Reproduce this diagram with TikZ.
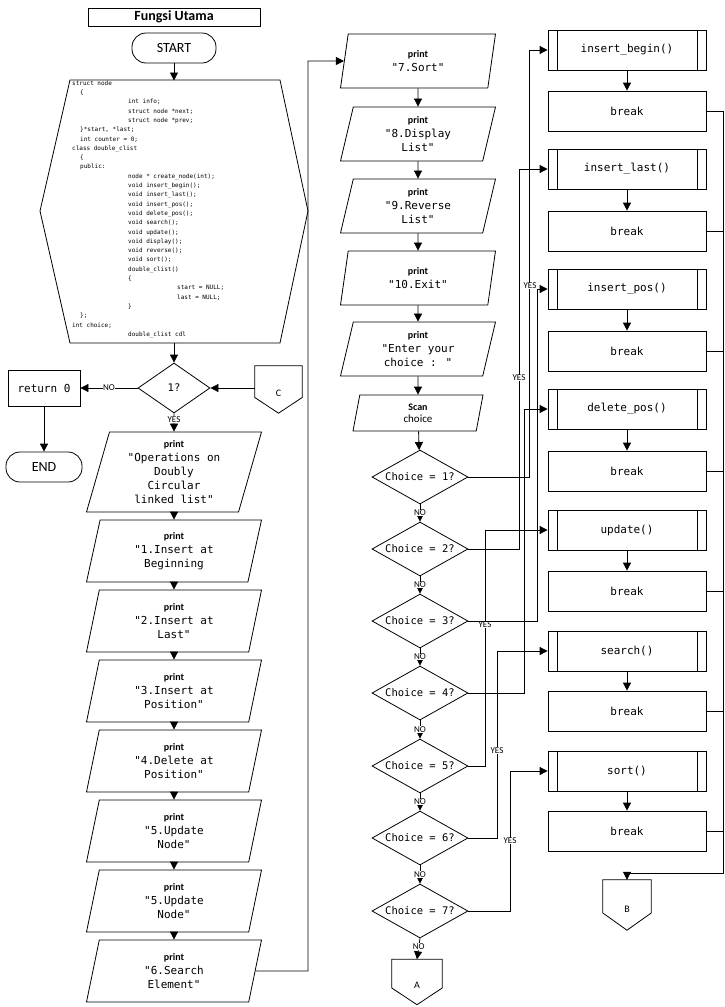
\documentclass[tikz,border=0pt]{standalone}
\usepackage{fontspec}
\setmainfont{Carlito}
\newfontfamily\mono{DejaVu Sans Mono}
\usetikzlibrary{shapes.geometric,arrows.meta}
\begin{document}
\begin{tikzpicture}[x=1pt,y=-1pt,
  every node/.style={inner sep=1pt},
  line/.style={draw,line width=0.8pt},
  arr/.style={line,-{Triangle[length=8pt,width=8pt]}},
  lbl/.style={font=\fontsize{9}{10}\selectfont,fill=white,inner sep=0.5pt},
  io/.style={draw,line width=0.8pt,trapezium,trapezium left angle=70,trapezium right angle=110,trapezium stretches body=true,minimum width=175pt,minimum height=62pt,align=center,font=\fontsize{11}{14}\selectfont\mono,inner sep=0pt},
  dec/.style={draw,line width=0.8pt,diamond,aspect=1.8,minimum width=96pt,minimum height=54pt,inner sep=0pt,font=\fontsize{10.5}{12}\selectfont\mono},
  proc/.style={draw,line width=0.8pt,minimum width=158pt,minimum height=40pt,font=\fontsize{11}{12}\selectfont\mono},
  pproc/.style={proc,path picture={\draw[line width=0.8pt] ([xshift=9pt]path picture bounding box.north west)--([xshift=9pt]path picture bounding box.south west);
     \draw[line width=0.8pt] ([xshift=-9pt]path picture bounding box.north east)--([xshift=-9pt]path picture bounding box.south east);}},
  term/.style={draw,line width=0.8pt,rounded corners=14pt,minimum height=30pt,font=\fontsize{14}{16}\selectfont}
]
\useasboundingbox (0,0) rectangle (725,1007);
\fill[white] (0,0) rectangle (725,1007);
\newcommand{\pr}[1]{{\fontfamily{}\rmfamily\bfseries\fontsize{10}{12}\selectfont print}\\#1}
% title
\node[draw,line width=0.8pt,minimum width=172pt,minimum height=18pt,font=\bfseries\fontsize{14}{16}\selectfont] (title) at (174,17) {Fungsi Utama};
\node[term,minimum width=84pt] (start) at (174,48) {START};
% code hexagon
\node[minimum width=268pt,minimum height=263pt] (code) at (174,211.5) {};
\draw[line width=0.8pt] (70,80)--(280,80)--(308,211)--(280,343)--(70,343)--(40,211)--cycle;
\node[anchor=north west,align=left,inner sep=0pt,font=\mono\fontsize{6}{9.3}\selectfont] (codetext) at (72,80.5) {%
struct node\\
\hspace*{8pt}\{\\
\hspace*{56pt}int info;\\
\hspace*{56pt}struct node *next;\\
\hspace*{56pt}struct node *prev;\\
\hspace*{8pt}\}*start, *last;\\
\hspace*{8pt}int counter = 0;\\
class double\_clist\\
\hspace*{8pt}\{\\
\hspace*{8pt}public:\\
\hspace*{56pt}node * create\_node(int);\\
\hspace*{56pt}void insert\_begin();\\
\hspace*{56pt}void insert\_last();\\
\hspace*{56pt}void insert\_pos();\\
\hspace*{56pt}void delete\_pos();\\
\hspace*{56pt}void search();\\
\hspace*{56pt}void update();\\
\hspace*{56pt}void display();\\
\hspace*{56pt}void reverse();\\
\hspace*{56pt}void sort();\\
\hspace*{56pt}double\_clist()\\
\hspace*{56pt}\{\\
\hspace*{105pt}start = NULL;\\
\hspace*{105pt}last = NULL;\\
\hspace*{56pt}\}\\
\hspace*{8pt}\};\\
int choice;\\
\hspace*{56pt}double\_clist cdl};
\node[dec,minimum width=72pt,minimum height=50pt,aspect=1.4] (q1) at (174,388) {1?};
\node[draw,line width=0.8pt,minimum width=72pt,minimum height=36pt,font=\mono\fontsize{11}{12}\selectfont] (ret) at (44,388) {return 0};
\node[term,minimum width=76pt] (end) at (44,467) {END};
\node[minimum width=47pt,minimum height=47pt] (C) at (278.5,389.5) {};
\draw[line width=0.8pt] (C.north west)--(C.north east)--([yshift=-8pt]C.east)--(C.south)--([yshift=-8pt]C.west)--cycle;
\node[font=\fontsize{10}{10}\selectfont] at ([yshift=-4pt]C.center) {C};
% left column
\node[io,minimum height=80pt] (ops) at (174,472) {\pr{"Operations on\\Doubly\\Circular\\linked list"}};
\node[io] (p1) at (174,551) {\pr{"1.Insert at\\Beginning}};
\node[io] (p2) at (174,621) {\pr{"2.Insert at\\Last"}};
\node[io] (p3) at (174,691) {\pr{"3.Insert at\\Position"}};
\node[io] (p4) at (174,761) {\pr{"4.Delete at\\Position"}};
\node[io] (p5) at (174,831) {\pr{"5.Update\\Node"}};
\node[io] (p6) at (174,901) {\pr{"5.Update\\Node"}};
\node[io] (p7) at (174,971) {\pr{"6.Search\\Element"}};
% middle column
\node[io,minimum width=155pt,minimum height=54pt] (s7) at (418,61) {\pr{"7.Sort"}};
\node[io,minimum width=155pt,minimum height=54pt] (s8) at (418,134) {\pr{"8.Display\\List"}};
\node[io,minimum width=155pt,minimum height=54pt] (s9) at (418,206) {\pr{"9.Reverse\\List"}};
\node[io,minimum width=155pt,minimum height=54pt] (s10) at (418,278) {\pr{"10.Exit"}};
\node[io,minimum width=155pt,minimum height=54pt] (s11) at (418,349) {\pr{"Enter your\\choice : "}};
\node[io,minimum width=130pt,minimum height=36pt,font=\fontsize{11}{12}\selectfont] (scan) at (418,413) {{\bfseries\fontsize{10}{12}\selectfont Scan}\\choice};
\foreach \i/\y in {1/477,2/549,3/621,4/693,5/766,6/838,7/911}{
  \node[dec] (c\i) at (420,\y) {Choice = \i?};
}
\node[minimum width=50pt,minimum height=45pt] (A) at (417,982) {};
\draw[line width=0.8pt] (A.north west)--(A.north east)--([yshift=-6pt]A.east)--(A.south)--([yshift=-6pt]A.west)--cycle;
\node[font=\fontsize{10}{10}\selectfont] at ([yshift=-3pt]A.center) {A};
% right column
\node[pproc] (f1) at (627,50) {insert\_begin()};
\node[proc] (b1) at (627,111) {break};
\node[pproc] (f2) at (627,169) {insert\_last()};
\node[proc] (b2) at (627,231) {break};
\node[pproc] (f3) at (627,289) {insert\_pos()};
\node[proc] (b3) at (627,351) {break};
\node[pproc] (f4) at (627,409) {delete\_pos()};
\node[proc] (b4) at (627,471) {break};
\node[pproc] (f5) at (627,530) {update()};
\node[proc] (b5) at (627,591) {break};
\node[pproc] (f6) at (627,651) {search()};
\node[proc] (b6) at (627,711) {break};
\node[pproc] (f7) at (627,771) {sort()};
\node[proc] (b7) at (627,831) {break};
\node[minimum width=48pt,minimum height=50pt] (B) at (627,905) {};
\draw[line width=0.8pt] (B.north west)--(B.north east)--([yshift=-8pt]B.east)--(B.south)--([yshift=-8pt]B.west)--cycle;
\node[font=\fontsize{10}{10}\selectfont] at ([yshift=-4pt]B.center) {B};
% connectors left
\draw[arr] (start) -- (codetext.north -| start);
\draw[arr] (174,343) -- (q1.north);
\draw[arr] (q1.west) -- node[lbl]{NO} (ret.east);
\draw[arr] (ret.south) -- (end.north);
\draw[arr] (C.west |- q1) -- (q1.east);
\draw[arr] (q1.south) -- node[lbl,pos=0.35]{YES} (ops.north);
\draw[arr] (ops) -- (p1); \draw[arr] (p1) -- (p2); \draw[arr] (p2) -- (p3);
\draw[arr] (p3) -- (p4); \draw[arr] (p4) -- (p5); \draw[arr] (p5) -- (p6); \draw[arr] (p6) -- (p7);
\coordinate (k1) at (308,971); \coordinate (k2) at (308,61);
\draw[arr] (p7.east) -- (k1) -- (k2) -- (s7.west);
% middle
\draw[arr] (s7) -- (s8); \draw[arr] (s8) -- (s9); \draw[arr] (s9) -- (s10);
\draw[arr] (s10) -- (s11); \draw[arr] (s11) -- (scan); \draw[arr] (scan) -- (c1);
\foreach \a/\b in {1/2,2/3,3/4,4/5,5/6,6/7}{\draw[arr] (c\a.south) -- node[lbl]{NO} (c\b.north);}
\draw[arr] (c7.south) -- node[lbl,pos=0.4]{NO} (A.north);
% yes branches
\draw[arr] (c1.east) -- (529,477) -- (529,50) -- (f1.west);
\draw[arr] (c2.east) -- (519,549) -- node[lbl,pos=0.45]{YES} (519,169) -- (f2.west);
\draw[arr] (c3.east) -- (537,621) -- (537,289) -- (f3.west);
\node[lbl] at (530,286) {YES};
\draw[arr] (c4.east) -- (524,693) -- (524,409) -- (f4.west);
\draw[arr] (c5.east) -- (485,766) -- (485,530) -- (f5.west);
\node[lbl] at (485,625) {YES};
\draw[arr] (c6.east) -- (497,838) -- node[lbl,pos=0.47]{YES} (497,651) -- (f6.west);
\draw[arr] (c7.east) -- (510,911) -- node[lbl,pos=0.5]{YES} (510,771) -- (f7.west);
% right chain
\foreach \i in {1,...,7}{\draw[arr] (f\i) -- (b\i);}
\coordinate (bus1) at (723,111); \coordinate (bus2) at (723,873); \coordinate (bus3) at (627,873);
\foreach \i in {2,...,7}{\draw[line] (b\i.east) -- (b\i.east -| bus1);}
\draw[arr] (b1.east) -- (bus1) -- (bus2) -- (bus3) -- (B.north);
\end{tikzpicture}
\end{document}
